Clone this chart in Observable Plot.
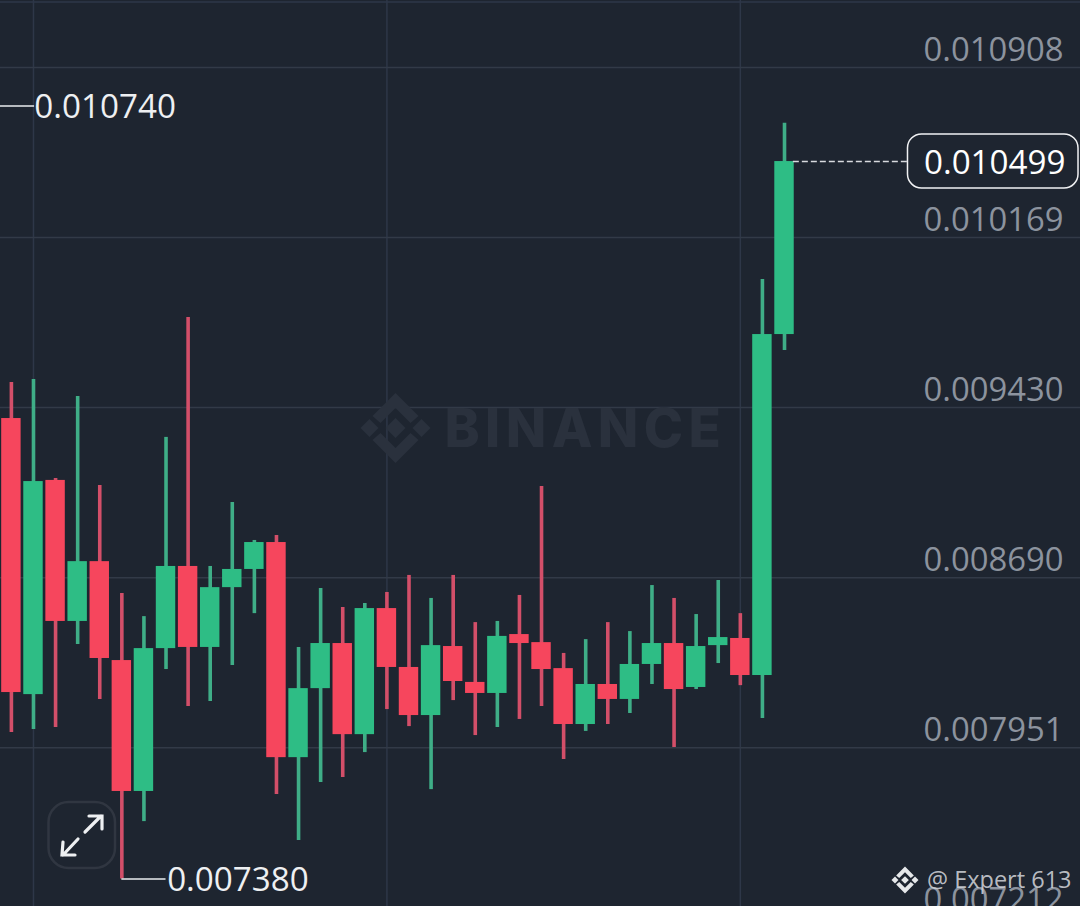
<!DOCTYPE html>
<html>
<head>
<meta charset="utf-8">
<script src="https://cdn.jsdelivr.net/npm/d3@7"></script>
<script src="https://cdn.jsdelivr.net/npm/@observablehq/plot@0.6"></script>
<style>
  html, body { margin: 0; padding: 0; background: #1e2530; overflow: hidden; }
  #wrap { position: relative; width: 1080px; height: 906px; overflow: hidden; }
  #wrap svg { display: block; position: absolute; left: 0; top: 0; }
  .wm text { letter-spacing: 5.4px; }
</style>
</head>
<body>
<div id="wrap"></div>
<script>
const open = [0.009382,0.008182,0.009113,0.008500,0.008760,0.008330,0.007761,0.008382,0.008739,0.008387,0.008647,0.008726,0.008843,0.007908,0.008208,0.008404,0.008008,0.008556,0.008300,0.008091,0.008391,0.008235,0.008187,0.008443,0.008408,0.008295,0.008052,0.008226,0.008161,0.008313,0.008404,0.008213,0.008395,0.008426,0.008265,0.009747];
const close = [0.008191,0.009108,0.008500,0.008760,0.008339,0.007761,0.008382,0.008739,0.008387,0.008647,0.008726,0.008843,0.007908,0.008208,0.008404,0.008008,0.008556,0.008300,0.008091,0.008395,0.008239,0.008187,0.008435,0.008404,0.008291,0.008052,0.008226,0.008161,0.008313,0.008404,0.008204,0.008391,0.008430,0.008265,0.009747,0.010499];
const high = [0.009539,0.009552,0.009121,0.009478,0.009091,0.008621,0.008521,0.009300,0.009821,0.008739,0.009017,0.008852,0.008874,0.008387,0.008643,0.008561,0.008578,0.008626,0.008700,0.008600,0.008700,0.008495,0.008500,0.008613,0.009087,0.008361,0.008421,0.008495,0.008456,0.008656,0.008600,0.008530,0.008678,0.008534,0.009986,0.010665];
const low = [0.008017,0.008030,0.008039,0.008400,0.008161,0.007380,0.007630,0.008291,0.008130,0.008152,0.008308,0.008534,0.007748,0.007548,0.007800,0.007822,0.007930,0.008117,0.008043,0.007769,0.008156,0.008004,0.008039,0.008074,0.008130,0.007900,0.008022,0.008052,0.008100,0.008226,0.007952,0.008204,0.008317,0.008221,0.008078,0.009678];

const priceTicks = [0.010908,0.010169,0.009430,0.008690,0.007951,0.007212];
const priceLabels = ["0.010908","0.010169","0.009430","0.008690","0.007951","0.007212"];
const timeGrid = [1,17,33];
const topEdge = [0.011192];
const lastPrice = 0.010499;
const maxPrice = 0.010740;
const minPrice = 0.007380;

const candles = open.map((o,i)=>({i, open:o, close:close[i], high:high[i], low:low[i], up:close[i]>=o}));
const halfBody = 0.44;

const BG = "#1e2530", UP = "#2ebd85", DOWN = "#f6465d", UPW = "#3fae87", DOWNW = "#d34f69";
const FONT = "'Open Sans', sans-serif";

const chart = Plot.plot({
  width: 1080, height: 906,
  margin: 0,
  x: {type:"linear", domain:[-0.4934,48.4], range:[0,1080], axis:null},
  y: {type:"linear", domain:[0.011199,0.007261], range:[0,906], axis:null},
  style: {background:"transparent", fontFamily:FONT},
  marks: [
    Plot.ruleX(timeGrid, {x:d=>d, stroke:"#2e3748", strokeWidth:1.5}),
    Plot.ruleY(priceTicks, {y:d=>d, stroke:"#323a47", strokeWidth:1.5}),
    Plot.ruleY(topEdge, {y:d=>d, stroke:"#2e3748", strokeWidth:1.5}),
    Plot.text(["BINANCE"], {text:d=>d, frameAnchor:"top-left", dx:444, dy:430, textAnchor:"start", lineAnchor:"middle", fontFamily:"Inter, sans-serif", fontWeight:800, fontSize:53, fill:"#2a313d", className:"wm"}),
    Plot.ruleX(candles, {x:"i", y1:"low", y2:"high", stroke:d=>d.up?UPW:DOWNW, strokeWidth:3.6}),
    Plot.rect(candles, {x1:d=>d.i-halfBody, x2:d=>d.i+halfBody, y1:"open", y2:"close", fill:d=>d.up?UP:DOWN}),
    Plot.text(priceLabels, {text:d=>d, y:(d,i)=>priceTicks[i], frameAnchor:"right", dx:-17, dy:-17, textAnchor:"end", fontSize:32.8, fill:"#8c939e"}),
    // high / low callouts
    Plot.ruleY([maxPrice], {y:d=>d, x1:-0.5, x2:1.05, stroke:"#eaecef", strokeWidth:1.5}),
    Plot.text(["0.010740"], {text:d=>d, x:()=>1.04, y:()=>maxPrice, dy:1, textAnchor:"start", fontSize:33.2, fill:"#eef0f2"}),
    Plot.ruleY([minPrice], {y:d=>d, x1:5, x2:7.0, stroke:"#eaecef", strokeWidth:1.5}),
    Plot.text(["0.007380"], {text:d=>d, x:()=>7.05, y:()=>minPrice, dy:1, textAnchor:"start", fontSize:33.2, fill:"#eef0f2"}),
    // last price tag
    Plot.ruleY([lastPrice], {y:d=>d, x1:35.4, x2:40.59, stroke:"#d8dade", strokeWidth:1.5, strokeDasharray:"6 3"}),
    Plot.rect([{x1:40.59,x2:48.31,y1:0.010617,y2:0.010382}], {x1:"x1",x2:"x2",y1:"y1",y2:"y2", fill:BG, stroke:"#f0f1f3", strokeWidth:1.5, rx:14}),
    Plot.text(["0.010499"], {text:d=>d, y:()=>lastPrice, frameAnchor:"right", dx:-15, dy:2, textAnchor:"end", fontSize:33.2, fill:"#ffffff"}),
    // author credit
    Plot.text(["@ Expert 613"], {text:d=>d, frameAnchor:"bottom-right", dx:-9, dy:-26, textAnchor:"end", lineAnchor:"middle", fontSize:23.5, fill:"#cdd0d5", fillOpacity:0.9})
  ]
});
const wrap = document.getElementById("wrap");
wrap.appendChild(chart);

// decorative icons: Binance marks and the expand button
const logo = (cx,cy,s,fill)=>`<g transform="translate(${cx},${cy}) scale(${s})" fill="${fill}">
  <path d="M0,-35 L23,-12 L15,-5 L0,-20 L-15,-5 L-23,-12Z"/>
  <path d="M0,35 L23,12 L15,5 L0,20 L-15,5 L-23,12Z"/>
  <path d="M0,-10 L10,0 L0,10 L-10,0Z"/>
  <path d="M-26,-9 L-17,0 L-26,9 L-35,0Z"/>
  <path d="M26,-9 L35,0 L26,9 L17,0Z"/></g>`;
wrap.insertAdjacentHTML("beforeend", `<svg width="1080" height="906" viewBox="0 0 1080 906" style="pointer-events:none">
  ${logo(395.5,428,1,"#2a313d")}
  ${logo(905,880,0.385,"#e6e8ea")}
  <rect x="48.5" y="802" width="66.5" height="66" rx="20" fill="none" stroke="#303641" stroke-width="2.5"/>
  <g stroke="#eef0f2" stroke-width="3.2" fill="none" stroke-linecap="round">
    <path d="M85,832 L101,816 M89,816 L102,816 L102,829"/>
    <path d="M78,839 L63,855 M63,842 L62,855 L75,855"/>
  </g></svg>`);
</script>
</body>
</html>
